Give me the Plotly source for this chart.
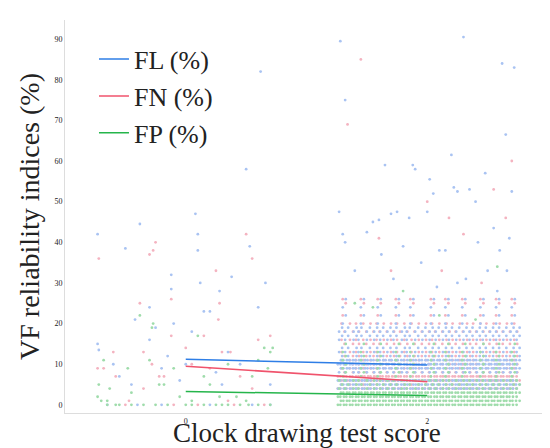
import plotly.graph_objects as go

# regression line endpoints (score 0 and score 2)
line_x = [0, 2]
fl_line = [11.2, 9.8]
fn_line = [9.5, 5.7]
fp_line = [3.3, 2.3]

# score 0 group: jitter offsets and values
fl0_off = [-0.73, -0.73, -0.72, -0.6, -0.5, -0.42, -0.38, -0.3, -0.3, -0.25, -0.12, -0.12, -0.1, 0.08, 0.1, 0.1,
           0.12, 0.15, 0.2, 0.28, 0.38, 0.5, 0.53, 0.6, 0.62, 0.66, -0.55, -0.45, 0.0, -0.05, 0.3, 0.45, 0.7,
           -0.2, 0.05, 0.35, -0.65, -0.4, -0.2, 0.2, 0.55, 0.7, -0.15, 0.25]
fl0_val = [42, 15, 13.5, 10, 38.5, 21, 44.5, 24, 16, 19, 28.5, 32, 20, 47, 42, 38,
           30, 23, 23, 28, 31.5, 58, 39, 24, 82, 30, 7, 5, 10, 6, 5, 10, 5,
           9, 18, 13, 0, 0, 0, 0, 0, 0, 12, 8]
fn0_off = [-0.72, -0.73, -0.68, -0.6, -0.58, -0.47, -0.38, -0.35, -0.3, -0.27, -0.25, -0.28, -0.22, -0.18,
           -0.12, -0.12, 0.0, 0.05, 0.15, 0.25, 0.27, 0.28, 0.3, 0.37, 0.5, 0.55, 0.6, 0.7, 0.2, 0.45, 0.55,
           -0.5, -0.1, 0.1, 0.4, 0.65, -0.35, 0.35]
fn0_val = [36, 9, 9, 13, 7, 1, 25, 13, 37, 38, 40, 10, 7, 7,
           26, 17, 14, 10, 17, 33, 21, 25, 13, 13, 42, 36, 16, 17, 9, 7, 4,
           0, 0, 0, 0, 0, 4, 1]
fp0_off = [-0.73, -0.72, -0.68, -0.63, -0.7, -0.65, -0.58, -0.48, -0.45, -0.38, -0.3, -0.28, -0.27, -0.22,
           -0.18, -0.1, -0.05, 0.05, 0.1, 0.15, 0.2, 0.28, 0.35, 0.42, 0.55, 0.6, 0.65, 0.7, 0.72, 0.68, 0.5,
           -0.55, -0.35, -0.15, 0.0, 0.25, 0.45, 0.6, 0.7, -0.65, 0.15, 0.35, -0.45, -0.25, 0.05, 0.3, 0.52]
fp0_val = [2, 5, 11, 4, 1, 1, 0, 9, 3, 22, 11, 19, 20, 5,
           5, 9, 2, 1, 17, 7, 5, 2, 10, 2, 7, 11, 14, 13, 14, 9, 1,
           0, 0, 0, 0, 0, 0, 0, 0, 0, 0, 0, 0, 0, 0, 0, 0]

# score 2 group: sparse high values
fl2_off = [-0.72, -0.68, -0.73, -0.7, -0.68, -0.5, -0.45, -0.4, -0.35, -0.3, -0.25, -0.15, -0.12, -0.1, 0.0,
           0.02, 0.05, 0.1, 0.2, 0.22, 0.25, 0.3, 0.35, 0.4, 0.48, 0.55, 0.62, 0.65, 0.72, 0.7, 0.68, 0.6,
           0.42, 0.15, -0.2, -0.38, -0.05, 0.25, 0.5, 0.66, -0.6, -0.28, 0.08, 0.32, 0.58]
fl2_val = [89.5, 75, 47.5, 42, 40, 42.5, 45, 45.5, 59, 47, 47.5, 46, 59, 58, 47.5,
           55.5, 52, 38, 61.5, 53.5, 52.5, 90.5, 53, 50, 57, 43.5, 84, 66.5, 83, 52.5, 41, 38,
           40, 38, 39, 37, 35, 30, 33, 33, 33, 31, 29, 31, 28]
fn2_off = [-0.55, -0.66, 0.0, -0.4, 0.18, 0.3, 0.55, 0.65, 0.7, -0.3, 0.12, 0.45]
fn2_val = [85, 69, 50, 41, 46, 42, 53, 46, 60, 33, 33, 30]
fp2_off = [-0.6, 0.58, -0.2, 0.1, 0.4, -0.45]
fp2_val = [25, 34, 28, 22, 21, 24]

# score 2 group: dense rows (levels x jitter offsets)
wide_off = [-0.74, -0.72, -0.69, -0.67, -0.64, -0.62, -0.59, -0.57, -0.54, -0.52, -0.49, -0.47, -0.44, -0.42,
            -0.39, -0.37, -0.34, -0.32, -0.29, -0.27, -0.24, -0.22, -0.19, -0.17, -0.14, -0.12, -0.09, -0.07,
            -0.04, -0.02, 0.01, 0.03, 0.06, 0.08, 0.11, 0.13, 0.16, 0.18, 0.21, 0.23, 0.26, 0.28, 0.31, 0.33,
            0.36, 0.38, 0.41, 0.43, 0.46, 0.48, 0.51, 0.53, 0.56, 0.58, 0.61, 0.63, 0.66, 0.68, 0.71, 0.74]
mid_off = [-0.73, -0.68, -0.61, -0.57, -0.5, -0.44, -0.39, -0.33, -0.28, -0.21, -0.17, -0.1, -0.04, 0.02, 0.07,
           0.13, 0.18, 0.24, 0.3, 0.35, 0.41, 0.46, 0.52, 0.57, 0.63, 0.69, 0.74]
mid_off_b = [-0.71, -0.64, -0.59, -0.53, -0.47, -0.42, -0.36, -0.3, -0.25, -0.19, -0.13, -0.07, -0.01, 0.04,
             0.1, 0.16, 0.21, 0.27, 0.33, 0.38, 0.44, 0.49, 0.55, 0.6, 0.66, 0.72]
few_off = [-0.7, -0.55, -0.41, -0.26, -0.14, 0.03, 0.15, 0.29, 0.44, 0.57, 0.7]

fl_rows_dense = [4, 5, 6, 9, 10, 11]
fl_rows_mid = [8, 12, 13, 14, 16, 17, 18, 19]
fl_rows_few = [20, 22, 24, 26]
fn_rows_dense = [4, 6, 7]
fn_rows_mid = [5, 8, 9, 10, 11, 12, 13, 15, 16, 18, 20]
fn_rows_few = [22, 25, 26]
fp_rows_dense = [0, 1, 2, 3]
fp_rows_mid = [4, 5, 6]
fp_rows_few = [7, 8, 9, 10, 11, 12, 13, 15]

DOT = dict(fl="#a9c3f2", fn="#f4b3c0", fp="#9fdcab")
LINE = dict(fl="#2e7ee6", fn="#f0536c", fp="#25b54b")


def build(center, off0, val0, rows):
    xs = [center + o for o in off0]
    ys = list(val0)
    for lv_list, offs in rows:
        for k, lv in enumerate(lv_list):
            use = offs if k % 2 == 0 else [o + 0.025 for o in offs]
            xs += [center + o for o in use]
            ys += [lv] * len(use)
    return xs, ys


series = {
    "fl": (fl0_off, fl0_val, fl2_off, fl2_val,
           [(fl_rows_dense, wide_off), (fl_rows_mid, mid_off), (fl_rows_few, few_off)]),
    "fn": (fn0_off, fn0_val, fn2_off, fn2_val,
           [(fn_rows_dense, wide_off), (fn_rows_mid, mid_off_b), (fn_rows_few, few_off)]),
    "fp": (fp0_off, fp0_val, fp2_off, fp2_val,
           [(fp_rows_dense, wide_off), (fp_rows_mid, mid_off), (fp_rows_few, few_off)]),
}

fig = go.Figure()
for key in ["fn", "fl", "fp"]:
    o0, v0, o2, v2, rows = series[key]
    xa, ya = build(0, o0, v0, [])
    xb, yb = build(2, o2, v2, rows)
    fig.add_trace(go.Scatter(x=xa + xb, y=ya + yb, mode="markers", showlegend=False,
                             marker=dict(color=DOT[key], size=2.8), hoverinfo="skip"))

for key, ys, name in [("fl", fl_line, "FL (%)"), ("fn", fn_line, "FN (%)"), ("fp", fp_line, "FP (%)")]:
    fig.add_trace(go.Scatter(x=line_x, y=ys, mode="lines", name=name,
                             line=dict(color=LINE[key], width=1.5)))

fig.add_annotation(text="Clock drawing test score", xref="paper", yref="paper", x=0.5, y=-0.052,
                   xanchor="center", yanchor="middle", showarrow=False, font=dict(size=27))

fig.update_layout(
    width=550, height=448, plot_bgcolor="white", paper_bgcolor="white",
    margin=dict(l=57, r=10, t=12, b=43),
    font=dict(family="Liberation Serif", color="#222"),
    legend=dict(x=0.06, y=0.96, font=dict(size=26), bgcolor="rgba(0,0,0,0)", tracegroupgap=0),
    xaxis=dict(range=[-1, 3], tickvals=[0, 2], showgrid=False, zeroline=False, showline=True,
               linecolor="#ddd", tickfont=dict(size=8)),
    yaxis=dict(range=[-2, 94.7], tickvals=list(range(0, 91, 10)), showgrid=False, zeroline=False,
               showline=True, linecolor="#ddd", tickfont=dict(size=8),
               title=dict(text="VF reliability indices (%)", font=dict(size=28), standoff=6)),
)
fig.write_html("out.html")
